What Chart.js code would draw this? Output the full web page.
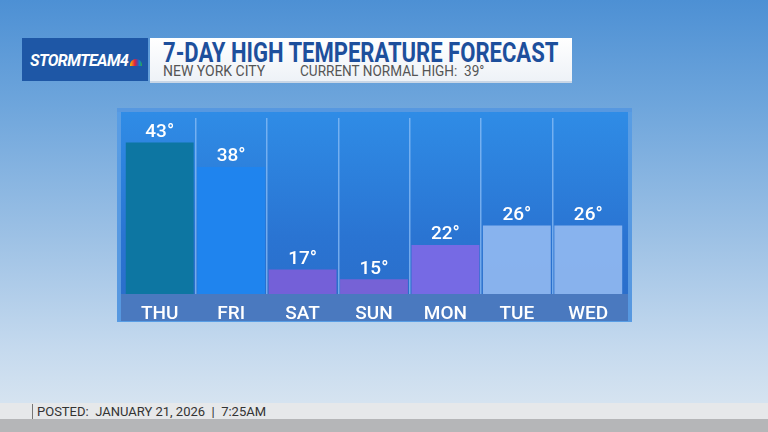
<!DOCTYPE html>
<html>
<head>
<meta charset="utf-8">
<script src="https://cdn.jsdelivr.net/npm/chart.js@4"></script>
<style>
body{margin:0;width:768px;height:432px;overflow:hidden;position:relative;
 background:linear-gradient(180deg,#4d90d4 0%,#6fa6dc 25%,#9dc1e5 55%,#c4d9ee 80%,#d5e3f0 93%);
 font-family:Roboto,sans-serif;}
#logo{position:absolute;left:22px;top:38px;width:126px;height:43px;background:#1e57a6;
 color:#fff;font:italic bold 16px Roboto,sans-serif;line-height:45px;text-indent:8px;letter-spacing:-0.6px}
#logo i{display:inline-block;width:12px;height:7px;margin-left:2px;border-radius:7px 7px 0 0;
 background:linear-gradient(90deg,#f5c400,#f37021,#e2203d,#6a3d97,#0089d0,#3aa935)}
#titlebox{position:absolute;left:150px;top:38px;width:422px;height:43px;
 background:linear-gradient(180deg,#ffffff,#eef2f7);border-bottom:2px solid #c9d6e6}
#title{position:absolute;left:13px;top:-1px;font-size:27px;font-weight:700;color:#1d4f9c;white-space:nowrap;transform-origin:0 0}
#sub1,#sub2{position:absolute;top:25px;font-size:14px;color:#555;white-space:nowrap;transform-origin:0 0}
#sub1{left:13px}#sub2{left:150px;transform:scaleX(0.97)}
#panel{position:absolute;left:117px;top:108px;width:507px;height:209px;
 border:4px solid rgba(95,160,228,0.85);border-bottom-width:1px;
 background:linear-gradient(180deg,#2f8ce6,#2a74d2 60%,#2b6cc8)}
#panel canvas{display:block}
#foot1{position:absolute;left:0;top:403px;width:768px;height:16px;background:#e6e8ea;
 font:13px Roboto,sans-serif;color:#333;line-height:18px}
#foot1 span{position:absolute;left:32px;top:-1px;border-left:1px solid #777;padding-left:4px;line-height:16px;margin-top:2px}
#foot2{position:absolute;left:0;top:419px;width:768px;height:13px;background:#b5b6b8}
</style>
</head>
<body>
<div id="logo">STORMTEAM4<i></i></div>
<div id="titlebox">
 <div id="title">7-DAY HIGH TEMPERATURE FORECAST</div>
 <div id="sub1">NEW YORK CITY</div>
 <div id="sub2">CURRENT NORMAL HIGH:&nbsp; 39°</div>
</div>
<div id="panel"><canvas id="c" width="507" height="209"></canvas></div>
<div id="foot1"><span>POSTED:&nbsp; JANUARY 21, 2026 &nbsp;|&nbsp; 7:25AM</span></div>
<div id="foot2"></div>
<script>
var days=["THU","FRI","SAT","SUN","MON","TUE","WED"];
var highs=[43,38,17,15,22,26,26];
var barColors=["#0d76a2","#1f84ee","#7460d8","#7662d6","#766ae4","rgba(160,195,245,0.8)","rgba(160,195,245,0.8)"];

// squeeze the title to the width it has in the graphic
var t=document.getElementById('title');
t.style.transform='scaleX('+(395/t.offsetWidth)+')';

var valueLabels={
  id:'valueLabels',
  beforeDraw:function(chart){
    var ctx=chart.ctx,a=chart.chartArea;
    ctx.save();
    ctx.fillStyle='#4a79bf';
    ctx.fillRect(0,a.bottom,chart.width,chart.height-a.bottom);
    ctx.restore();
  },
  afterDatasetsDraw:function(chart){
    var ctx=chart.ctx;
    var meta=chart.getDatasetMeta(0);
    ctx.save();
    ctx.fillStyle='#fff';
    ctx.font='500 19px Roboto,sans-serif';
    ctx.textAlign='center';
    ctx.textBaseline='bottom';
    meta.data.forEach(function(bar,i){
      ctx.fillText(highs[i]+'°',bar.x,bar.y-1);
    });
    ctx.restore();
  }
};

new Chart(document.getElementById('c'),{
  type:'bar',
  data:{labels:days,datasets:[{data:highs,backgroundColor:barColors,barPercentage:0.95,categoryPercentage:1}]},
  options:{
    responsive:false,animation:false,
    layout:{padding:{left:3,right:4,top:6,bottom:0}},
    plugins:{legend:{display:false},tooltip:{enabled:false}},
    scales:{
      x:{offset:true,border:{display:false},
        grid:{offset:true,lineWidth:1.5,drawTicks:false,
          color:function(c){return (c.type!=='tick'||c.index===0)?'rgba(0,0,0,0)':'rgba(140,190,245,0.75)';}},
        ticks:{color:'#fff',padding:9,font:{family:'Roboto,sans-serif',size:19,weight:'500'}},
        afterFit:function(s){s.height=27;}},
      y:{display:false,min:12,max:48}
    }
  },
  plugins:[valueLabels]
});
</script>
</body>
</html>
